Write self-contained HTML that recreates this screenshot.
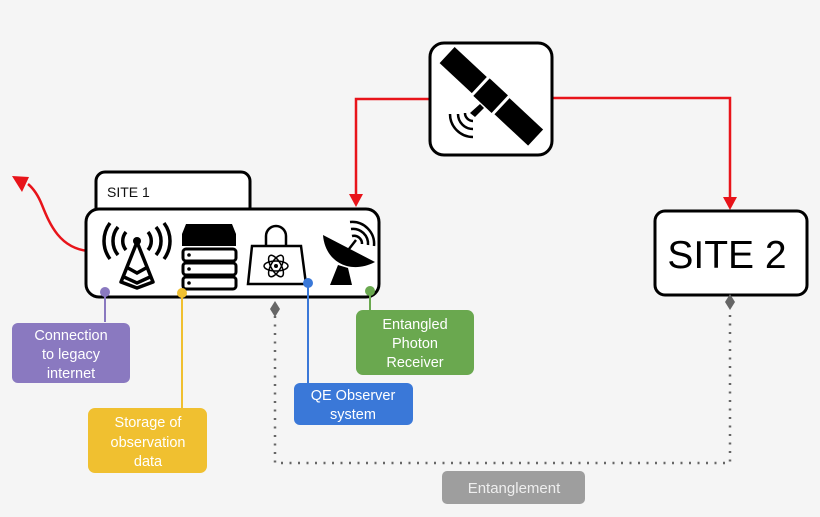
<!DOCTYPE html>
<html><head><meta charset="utf-8"><style>
html,body{margin:0;padding:0;background:#f5f5f5;}
svg{display:block;}
text{font-family:"Liberation Sans",sans-serif;}
</style></head><body>
<svg width="820" height="517" viewBox="0 0 820 517" xmlns="http://www.w3.org/2000/svg">
<rect width="820" height="517" fill="#f5f5f5"/>
<path d="M429 99 H356 V197" fill="none" stroke="#e8141a" stroke-width="2.5"/>
<polygon points="349,194 363,194 356,207" fill="#e8141a"/>
<path d="M552 98 H730 V200" fill="none" stroke="#e8141a" stroke-width="2.5"/>
<polygon points="723,197 737,197 730,210" fill="#e8141a"/>
<path d="M88 251 C60 248 50 225 42 205 C38 195 34 189 28 184" fill="none" stroke="#e8141a" stroke-width="2.5"/>
<polygon points="12,176 29,177 22,192" fill="#e8141a"/>
<rect x="430" y="43" width="122" height="112" rx="14" fill="#fff" stroke="#000" stroke-width="3"/>
<g transform="translate(491 96) rotate(43)">
<rect x="-60" y="-11" width="44" height="22" fill="#000"/>
<rect x="15" y="-11" width="46" height="22" fill="#000"/>
<rect x="-13" y="-12" width="25" height="24" fill="#000"/>
</g>
<path d="M480 104 L470 113 L475 117 L484 108 Z" fill="#000"/>
<path d="M465 113 a8 8 0 0 0 8 8" fill="none" stroke="#000" stroke-width="2.5"/>
<path d="M458 114 a15 15 0 0 0 15 15" fill="none" stroke="#000" stroke-width="2.5"/>
<path d="M450 114 a23 23 0 0 0 23 23" fill="none" stroke="#000" stroke-width="2.5"/>
<rect x="96" y="172" width="154" height="50" rx="9" fill="#fff" stroke="#000" stroke-width="3"/>
<text x="107" y="197" font-size="14" fill="#111">SITE 1</text>
<rect x="86" y="209" width="293" height="88" rx="13" fill="#fff" stroke="#000" stroke-width="3"/>
<g fill="none" stroke="#000" stroke-width="3.5">
<path d="M126 232 a14 14 0 0 0 0 18"/><path d="M148 232 a14 14 0 0 1 0 18"/>
<path d="M118 227 a22 22 0 0 0 0 28"/><path d="M156 227 a22 22 0 0 1 0 28"/>
<path d="M110 223 a30 30 0 0 0 0 36"/><path d="M164 223 a30 30 0 0 1 0 36"/>
<path d="M137 242 L121 282 L137 288 L153 282 Z" stroke-linejoin="round"/>
<path d="M128 268 L137 273 L146 268"/><path d="M124 277 L137 283 L150 277"/>
</g>
<circle cx="137" cy="241" r="4" fill="#000"/>
<path d="M186 224 H232 L236 234 V246 H182 V234 Z" fill="#000"/>
<g fill="#fff" stroke="#000" stroke-width="3"><rect x="183" y="249" width="53" height="12" rx="3"/><rect x="183" y="263" width="53" height="12" rx="3"/><rect x="183" y="277" width="53" height="12" rx="3"/></g>
<circle cx="189" cy="255" r="1.8" fill="#000"/><circle cx="189" cy="269" r="1.8" fill="#000"/><circle cx="189" cy="283" r="1.8" fill="#000"/>
<path d="M252 246 H301 L306 284 H248 Z" fill="#fff" stroke="#000" stroke-width="2.5"/>
<path d="M266 246 V236 a10 10 0 0 1 20 0 V246" fill="none" stroke="#000" stroke-width="2.5"/>
<g fill="none" stroke="#000" stroke-width="1.5"><ellipse cx="276" cy="266" rx="12" ry="5"/><ellipse cx="276" cy="266" rx="12" ry="5" transform="rotate(60 276 266)"/><ellipse cx="276" cy="266" rx="12" ry="5" transform="rotate(-60 276 266)"/></g>
<circle cx="276" cy="266" r="2" fill="#000"/>
<path d="M323 235 C325 262 350 275 375 262 Z" fill="#000"/>
<path d="M338 265 L330 285 H352 L348 268 Z" fill="#000"/>
<line x1="349" y1="249" x2="356" y2="240" stroke="#000" stroke-width="2.5"/>
<g fill="none" stroke="#000" stroke-width="2.5"><path d="M352 236 a8 8 0 0 1 10 8"/><path d="M351 229 a15 15 0 0 1 17 16"/><path d="M350 222 a22 22 0 0 1 24 24"/></g>
<rect x="655" y="211" width="152" height="84" rx="10" fill="#fff" stroke="#000" stroke-width="3"/>
<text x="727" y="268" font-size="39" fill="#000" text-anchor="middle">SITE 2</text>
<path d="M275 316 V463 H730 V310" fill="none" stroke="#666" stroke-width="2.5" stroke-dasharray="2 6.5"/>
<polygon points="275,301 280,309 275,317 270,309" fill="#666"/>
<polygon points="730,294 735,302 730,310 725,302" fill="#666"/>
<line x1="105" y1="292" x2="105" y2="322" stroke="#8a79c0" stroke-width="2"/><circle cx="105" cy="292" r="5" fill="#8a79c0"/>
<rect x="12" y="323" width="118" height="60" rx="6" fill="#8a79c0"/>
<g fill="#fff" font-size="14.5" text-anchor="middle"><text x="71" y="340">Connection</text><text x="71" y="359">to legacy</text><text x="71" y="378">internet</text></g>
<line x1="182" y1="293" x2="182" y2="410" stroke="#f0c030" stroke-width="2"/><circle cx="182" cy="293" r="5" fill="#f0c030"/>
<rect x="88" y="408" width="119" height="65" rx="7" fill="#f0c030"/>
<g fill="#fff" font-size="14.5" text-anchor="middle"><text x="148" y="427">Storage of</text><text x="148" y="447">observation</text><text x="148" y="466">data</text></g>
<line x1="308" y1="283" x2="308" y2="386" stroke="#3a78d8" stroke-width="2"/><circle cx="308" cy="283" r="5" fill="#3a78d8"/>
<rect x="294" y="383" width="119" height="42" rx="6" fill="#3a78d8"/>
<g fill="#fff" font-size="14.5" text-anchor="middle"><text x="353" y="400">QE Observer</text><text x="353" y="419">system</text></g>
<line x1="370" y1="291" x2="370" y2="312" stroke="#6aa84f" stroke-width="2"/><circle cx="370" cy="291" r="5" fill="#6aa84f"/>
<rect x="356" y="310" width="118" height="65" rx="7" fill="#6aa84f"/>
<g fill="#fff" font-size="14.5" text-anchor="middle"><text x="415" y="329">Entangled</text><text x="415" y="348">Photon</text><text x="415" y="367">Receiver</text></g>
<rect x="442" y="471" width="143" height="33" rx="5" fill="#9e9e9e"/>
<text x="514" y="493" fill="#eee" font-size="15" text-anchor="middle">Entanglement</text>
</svg>
</body></html>
